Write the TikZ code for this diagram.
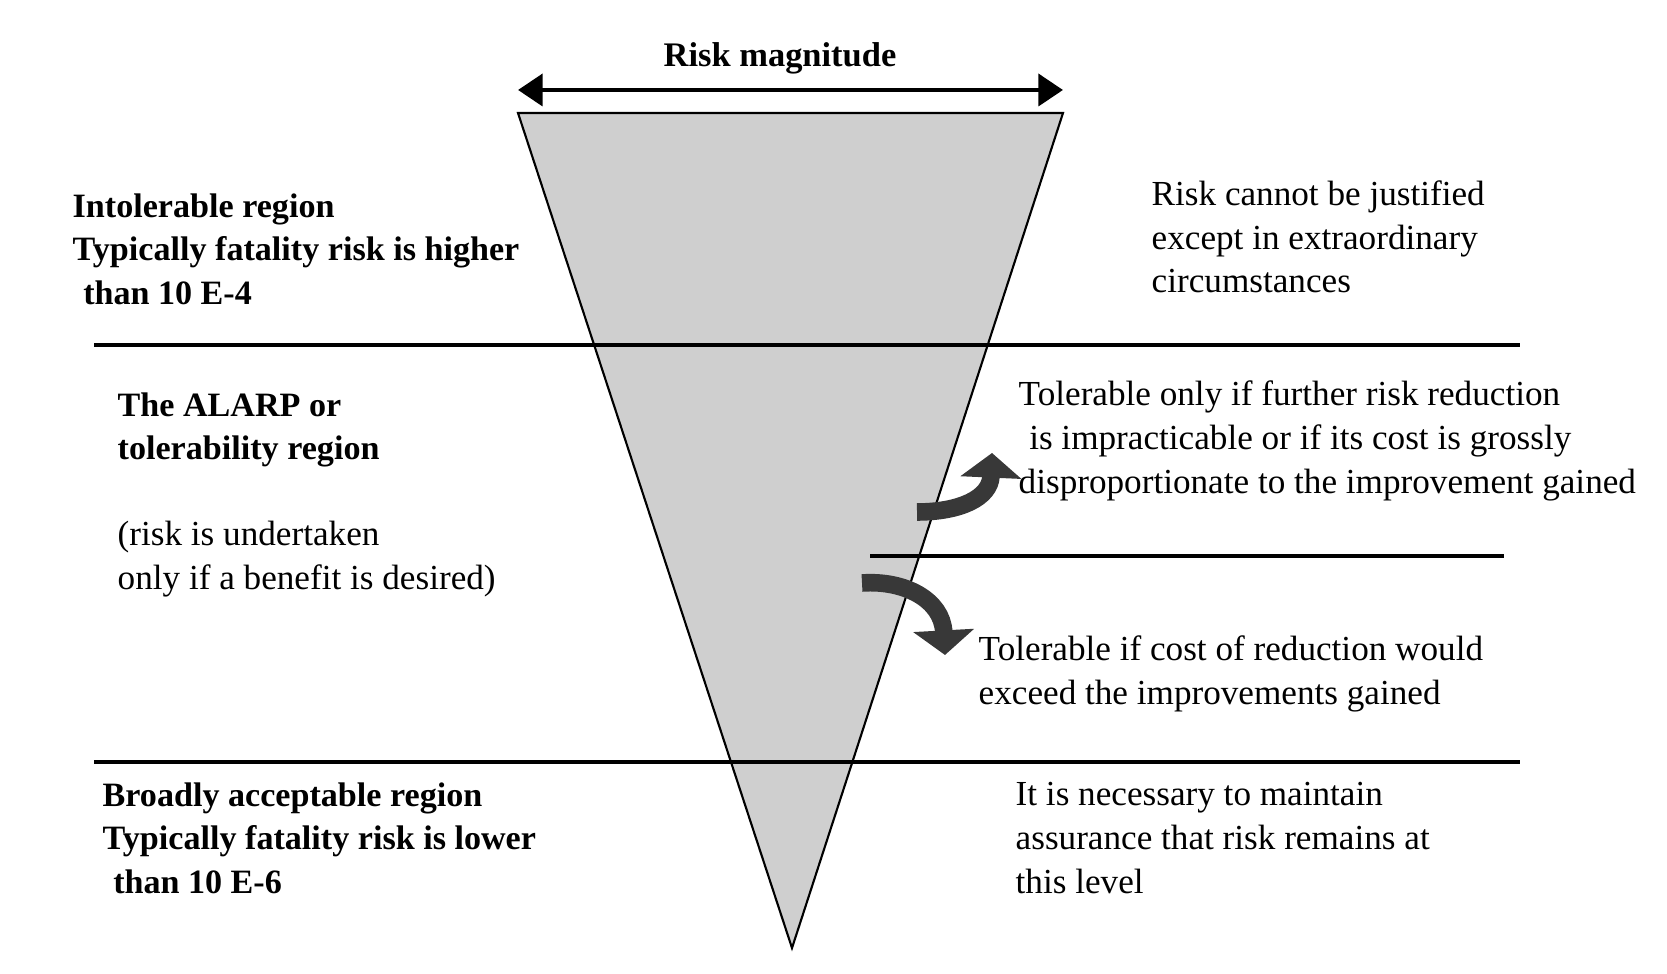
\documentclass[tikz,border=0pt]{standalone}
\usepackage{fontspec}
\setmainfont{Liberation Serif}
\usepackage{tikz}
\usetikzlibrary{arrows,arrows.meta,positioning}
\tikzset{
    %Define standard arrow tip
    >={Triangle[width=9pt,length=7pt]},
    %Define style for region names
    regiontxt/.style={
           font=\fontsize{9.7}{12.4}\selectfont\bfseries,
           align=left,
           inner sep=0pt,
           anchor=west},
    %Define style for comments
    notetxt/.style={
           font=\fontsize{10}{12.4}\selectfont,
           align=left,
           inner sep=0pt,
           anchor=west},
    %Define style for region borders
    divider/.style={
           draw=black,
           line width=1.2pt},
    %Define style for funnel
    wedge/.style={
           draw=black,
           line width=0.6pt,
           fill=black!19},
    % Define curved arrow style
    swoosh/.style={
           draw=black!78,
           line width=5pt,
           -{Triangle[width=17pt,length=7pt]}}
}
\begin{document}
\begin{tikzpicture}[x=0.01cm,y=-0.01cm]
\useasboundingbox (0,0) rectangle (1667,974);
% risk magnitude
\coordinate (ml) at (518,90);
\coordinate (mr) at (1063,90);
\draw[<->,line width=1.4pt] (ml) -- (mr);
\node[font=\fontsize{9.8}{12}\selectfont\bfseries] (0) at (780,58) {Risk magnitude};
\draw[wedge] (518,113) -- (1063,113) -- (792,948) -- cycle;
% borders
\draw[divider] (94,345) -- (1520,345);
\draw[divider,line width=1pt] (870,556) -- (1504,556);
\draw[divider] (94,762) -- (1520,762);
% left side
\node[regiontxt] (1) at (72,249) {Intolerable region\\Typically fatality risk is higher\\\hspace*{3pt}than 10 E-4};
\node[regiontxt] (2) at (117,430) {The ALARP or\\tolerability region};
\node[notetxt] (3) at (117,559) {(risk is undertaken\\only if a benefit is desired)};
\node[regiontxt] (4) at (102,838) {Broadly acceptable region\\Typically fatality risk is lower\\\hspace*{3pt}than 10 E-6};
% right side
\node[notetxt] (5) at (1151,237) {Risk cannot be justified\\except in extraordinary\\circumstances};
\node[notetxt] (6) at (1018,441) {Tolerable only if further risk reduction\\\hspace*{3pt}is impracticable or if its cost is grossly\\disproportionate to the improvement gained};
\node[notetxt] (7) at (978,674) {Tolerable if cost of reduction would\\exceed the improvements gained};
\node[notetxt] (8) at (1015,838) {It is necessary to maintain\\assurance that risk remains at\\this level};
% curved arrows
\coordinate (a1) at (917,512);
\coordinate (a2) at (992,453);
\draw[swoosh] (a1) .. controls (960,512) and (990,498) .. (a2);
\coordinate (b1) at (862,583);
\coordinate (b2) at (945,655);
\draw[swoosh] (b1) .. controls (905,580) and (942,600) .. (b2);
\end{tikzpicture}
\end{document}
